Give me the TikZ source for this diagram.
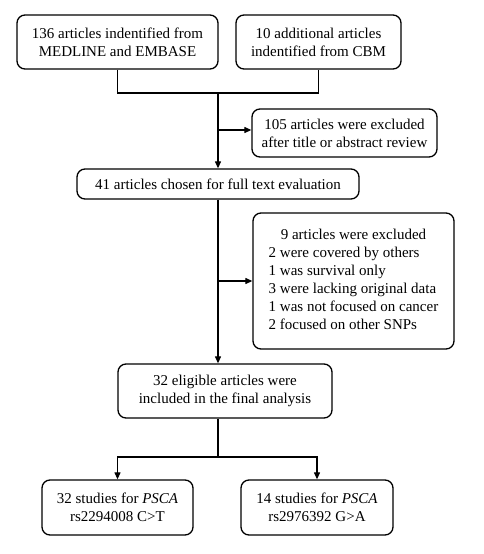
\documentclass[tikz,border=0pt]{standalone}
\usepackage{fontspec}
\setmainfont{Liberation Serif}
\usetikzlibrary{arrows.meta}
\begin{document}
\begin{tikzpicture}[x=1pt,y=-1pt,
  box/.style={draw,line width=1.3pt,rounded corners=8pt,align=center,inner sep=0pt,font=\fontsize{15}{18}\selectfont},
  conn/.style={line width=1.2pt},
  arr/.style={conn,-{Triangle[length=7pt,width=6pt]}}]
\useasboundingbox (0,0) rectangle (484,554);
\node[box,minimum width=201pt,minimum height=54pt] (a) at (117.5,42) {136 articles indentified from\\MEDLINE and EMBASE};
\node[box,minimum width=165pt,minimum height=54pt] (b) at (318.5,42) {10 additional articles\\indentified from CBM};
\node[box,minimum width=185pt,minimum height=48pt] (ex1) at (344.5,133) {105 articles were excluded\\after title or abstract review};
\node[box,minimum width=282pt,minimum height=30pt] (c) at (218,184) {41 articles chosen for full text evaluation};
\node[box,minimum width=201pt,minimum height=136pt] (ex2) at (353.5,281) {\begin{tabular}{@{}l@{}}\multicolumn{1}{@{}c@{}}{9 articles were excluded}\\2 were covered by others\\1 was survival only\\3 were lacking original data\\1 was not focused on cancer\\2 focused on other SNPs\end{tabular}};
\node[box,minimum width=214pt,minimum height=54pt] (d) at (225,391) {32 eligible articles were\\included in the final analysis};
\node[box,minimum width=151pt,minimum height=55pt] (e) at (117.5,507.5) {32 studies for \textit{PSCA}\\rs2294008 C>T};
\node[box,minimum width=152pt,minimum height=55pt] (f) at (317,507.5) {14 studies for \textit{PSCA}\\rs2976392 G>A};
\coordinate (j1) at (218,93);
\coordinate (j2) at (218,130);
\coordinate (j3) at (218,281);
\coordinate (j4) at (218,457);
\draw[conn] (a.south) |- (j1) -| (b.south);
\draw[arr] (j1) -- (c.north -| j1);
\draw[arr] (j2) -- (ex1.west |- j2);
\draw[arr] (c.south -| j3) -- (d.north -| j3);
\draw[arr] (j3) -- (ex2.west |- j3);
\draw[conn] (d.south -| j4) -- (j4);
\draw[arr] (j4) -| (e.north);
\draw[arr] (j4) -| (f.north);
\end{tikzpicture}
\end{document}
